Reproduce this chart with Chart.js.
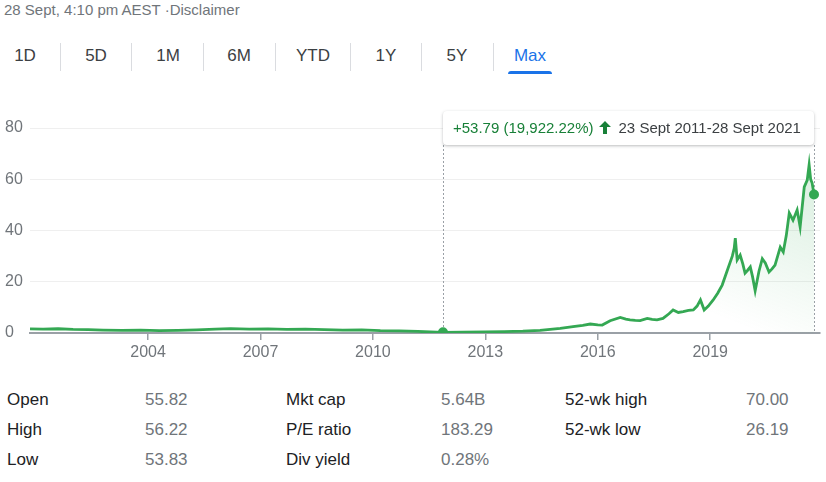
<!DOCTYPE html>
<html>
<head>
<meta charset="utf-8">
<script src="https://cdn.jsdelivr.net/npm/chart.js@4/dist/chart.umd.min.js"></script>
<style>
  body { margin: 0; width: 826px; height: 482px; background: #fff; font-family: Arial, 'Liberation Sans', sans-serif; position: relative; overflow: hidden; }
  .stamp { position: absolute; left: 4px; top: 1px; font-size: 15px; color: #70757a; }
  .tab { position: absolute; top: 46px; font-size: 17px; color: #3c4043; transform: translateX(-50%); }
  .tab.on { color: #1a73e8; }
  .sep { position: absolute; top: 43px; width: 1px; height: 28px; background: #dadce0; }
  .uline { position: absolute; left: 508px; top: 71px; width: 44px; height: 3px; background: #1a73e8; border-radius: 3px 3px 0 0; }
  #wrap { position: absolute; left: 0; top: 90px; }
  #box { position: absolute; top: 111px; height: 34px; background: #fff; border-radius: 4px; box-shadow: 0 1px 3px rgba(60,64,67,0.35); font-size: 15px; line-height: 34px; white-space: nowrap; box-sizing: border-box; padding-left: 10px; }
  #box .g { color: #188038; }
  #box .d { color: #3c4043; margin-left: 8px; }
  #box svg { vertical-align: -1px; margin-left: 5px; }
  .st { position: absolute; font-size: 17px; }
  .lb { color: #202124; }
  .vl { color: #70757a; }
</style>
</head>
<body>
<div class="stamp">28 Sept, 4:10 pm AEST ·Disclaimer</div>

<div class="tab" style="left:25px">1D</div>
<div class="sep" style="left:60px"></div>
<div class="tab" style="left:96px">5D</div>
<div class="sep" style="left:131px"></div>
<div class="tab" style="left:168px">1M</div>
<div class="sep" style="left:203px"></div>
<div class="tab" style="left:239px">6M</div>
<div class="sep" style="left:275px"></div>
<div class="tab" style="left:313px">YTD</div>
<div class="sep" style="left:350px"></div>
<div class="tab" style="left:386px">1Y</div>
<div class="sep" style="left:421px"></div>
<div class="tab" style="left:457px">5Y</div>
<div class="sep" style="left:493px"></div>
<div class="tab on" style="left:530px">Max</div>
<div class="uline"></div>

<div id="wrap"><canvas id="price-chart" width="826" height="280"></canvas></div>

<div id="box"><span class="g">+53.79 (19,922.22%)</span><svg width="12" height="13" viewBox="0 0 12 13"><path d="M6 0 L12 6 L8 6 L8 13 L4 13 L4 6 L0 6 Z" fill="#188038"/></svg><span class="d">23 Sept 2011-28 Sept 2021</span></div>

<div class="st lb" style="left:7px;top:390px">Open</div>
<div class="st vl" style="left:145px;top:390px">55.82</div>
<div class="st lb" style="left:286px;top:390px">Mkt cap</div>
<div class="st vl" style="left:441px;top:390px">5.64B</div>
<div class="st lb" style="left:565px;top:390px">52-wk high</div>
<div class="st vl" style="left:746px;top:390px">70.00</div>
<div class="st lb" style="left:7px;top:420px">High</div>
<div class="st vl" style="left:145px;top:420px">56.22</div>
<div class="st lb" style="left:286px;top:420px">P/E ratio</div>
<div class="st vl" style="left:441px;top:420px">183.29</div>
<div class="st lb" style="left:565px;top:420px">52-wk low</div>
<div class="st vl" style="left:746px;top:420px">26.19</div>
<div class="st lb" style="left:7px;top:450px">Low</div>
<div class="st vl" style="left:145px;top:450px">53.83</div>
<div class="st lb" style="left:286px;top:450px">Div yield</div>
<div class="st vl" style="left:441px;top:450px">0.28%</div>

<script>
// price history, x = decimal year
var years = [2000.85, 2001.2, 2001.6, 2002.0, 2002.4, 2002.8, 2003.3, 2003.8, 2004.3, 2004.8,
  2005.3, 2005.8, 2006.2, 2006.7, 2007.2, 2007.7, 2008.2, 2008.7, 2009.2, 2009.7,
  2010.2, 2010.7, 2011.2, 2011.87, 2012.4, 2013.0, 2013.5, 2014.0, 2014.46, 2015.0,
  2015.34, 2015.6, 2015.8, 2016.0, 2016.12, 2016.33, 2016.6, 2016.75, 2016.86, 2017.0,
  2017.13, 2017.32, 2017.45, 2017.58, 2017.74, 2017.9, 2018.01, 2018.15, 2018.28, 2018.42,
  2018.55, 2018.65, 2018.74, 2018.84, 2018.95, 2019.08, 2019.2, 2019.32, 2019.46, 2019.59,
  2019.64, 2019.67, 2019.72, 2019.8, 2019.87, 2019.93, 2020.0, 2020.07, 2020.13, 2020.2,
  2020.3, 2020.39, 2020.47, 2020.57, 2020.65, 2020.73, 2020.87, 2020.95, 2021.03, 2021.11,
  2021.21, 2021.32, 2021.4, 2021.51, 2021.59, 2021.64, 2021.68, 2021.72, 2021.77];
var prices = [1.6, 1.5, 1.65, 1.4, 1.3, 1.1, 1.0, 1.1, 0.95, 1.05,
  1.2, 1.5, 1.7, 1.55, 1.6, 1.45, 1.5, 1.3, 1.1, 1.2,
  0.9, 0.85, 0.6, 0.27, 0.3, 0.45, 0.55, 0.7, 1.0, 1.8,
  2.5, 3.0, 3.5, 3.2, 3.1, 4.8, 6.1, 5.4, 5.1, 4.9,
  4.8, 5.7, 5.3, 5.1, 5.7, 7.5, 9.0, 8.0, 8.3, 8.8,
  9.0, 10.5, 12.9, 9.0, 10.5, 12.9, 15.5, 18.7, 24.6, 30,
  33, 37, 28.5, 30.4, 27, 23.4, 24.5, 25.8, 22, 16.5,
  24, 29, 27.3, 23.8, 25, 26.5, 33.5, 31.6, 38, 46.8,
  44, 48, 41.4, 57, 59.7, 65.6, 60, 58.5, 54.06];
// selected range (start / end markers)
var rangeDates = [2011.87, 2021.77];
var rangeValues = [0.27, 54.06];
var yearTicks = [2004, 2007, 2010, 2013, 2016, 2019];
var priceTicks = [0, 20, 40, 60, 80];

var green = '#34a853';

var rangeLines = {
  id: 'rangeLines',
  beforeDatasetsDraw: function (chart) {
    var c = chart.ctx, xs = chart.scales.x;
    c.save();
    c.strokeStyle = '#9aa0a6';
    c.lineWidth = 1;
    c.setLineDash([2, 2]);
    rangeDates.forEach(function (d) {
      var px = Math.round(xs.getPixelForValue(d)) + 0.5;
      c.beginPath();
      c.moveTo(px, 55);
      c.lineTo(px, chart.chartArea.bottom);
      c.stroke();
    });
    c.restore();
  }
};

var chart = new Chart(document.getElementById('price-chart'), {
  type: 'line',
  data: {
    datasets: [
      {
        data: rangeDates.map(function (d, i) { return { x: d, y: rangeValues[i] }; }),
        showLine: false,
        pointRadius: 5,
        pointBackgroundColor: green,
        pointBorderWidth: 0
      },
      {
        data: years.map(function (d, i) { return { x: d, y: prices[i] }; }),
        borderColor: green,
        borderWidth: 2.8,
        pointRadius: 0,
        tension: 0,
        fill: 'origin',
        backgroundColor: function (ctx) {
          var ch = ctx.chart;
          if (!ch.chartArea) return 'rgba(0,0,0,0)';
          var xs = ch.scales.x, ys = ch.scales.y;
          var g = ch.ctx.createLinearGradient(xs.getPixelForValue(2021.8), ys.getPixelForValue(55),
            xs.getPixelForValue(2020.3), ch.chartArea.bottom);
          g.addColorStop(0, 'rgba(52,168,83,0.16)');
          g.addColorStop(1, 'rgba(52,168,83,0)');
          return g;
        }
      }
    ]
  },
  options: {
    responsive: false,
    animation: false,
    layout: { padding: { left: 5, right: 6, top: 38, bottom: 0 } },
    plugins: { legend: { display: false }, tooltip: { enabled: false } },
    scales: {
      x: {
        type: 'linear',
        min: 2000.85,
        max: 2021.93,
        afterFit: function (s) { s.height = 37; },
        afterBuildTicks: function (s) { s.ticks = yearTicks.map(function (v) { return { value: v }; }); },
        ticks: {
          autoSkip: false, maxRotation: 0, padding: 3,
          color: '#70757a',
          font: { family: "Arial, 'Liberation Sans', sans-serif", size: 16 },
          callback: function (v) { return String(v); }
        },
        grid: { drawOnChartArea: false, tickLength: 7, color: '#9aa0a6', lineWidth: 1.5 },
        border: { display: true, color: '#9aa0a6', width: 2 }
      },
      y: {
        min: 0,
        max: 80,
        afterFit: function (s) { s.width = 25; },
        afterBuildTicks: function (s) { s.ticks = priceTicks.map(function (v) { return { value: v }; }); },
        ticks: {
          crossAlign: 'far', padding: 0,
          color: '#70757a',
          font: { family: "Arial, 'Liberation Sans', sans-serif", size: 16 }
        },
        grid: {
          drawTicks: false,
          color: function (c) { return c.tick && c.tick.value === 0 ? 'rgba(0,0,0,0)' : '#efefef'; }
        },
        border: { display: false }
      }
    }
  },
  plugins: [rangeLines]
});

// place the range box over the selected dates
var bx = chart.scales.x;
var x0 = bx.getPixelForValue(rangeDates[0]), x1 = bx.getPixelForValue(rangeDates[1]);
var box = document.getElementById('box');
box.style.left = Math.round(x0) + 'px';
box.style.width = Math.round(x1 - x0) + 'px';
</script>
</body>
</html>
